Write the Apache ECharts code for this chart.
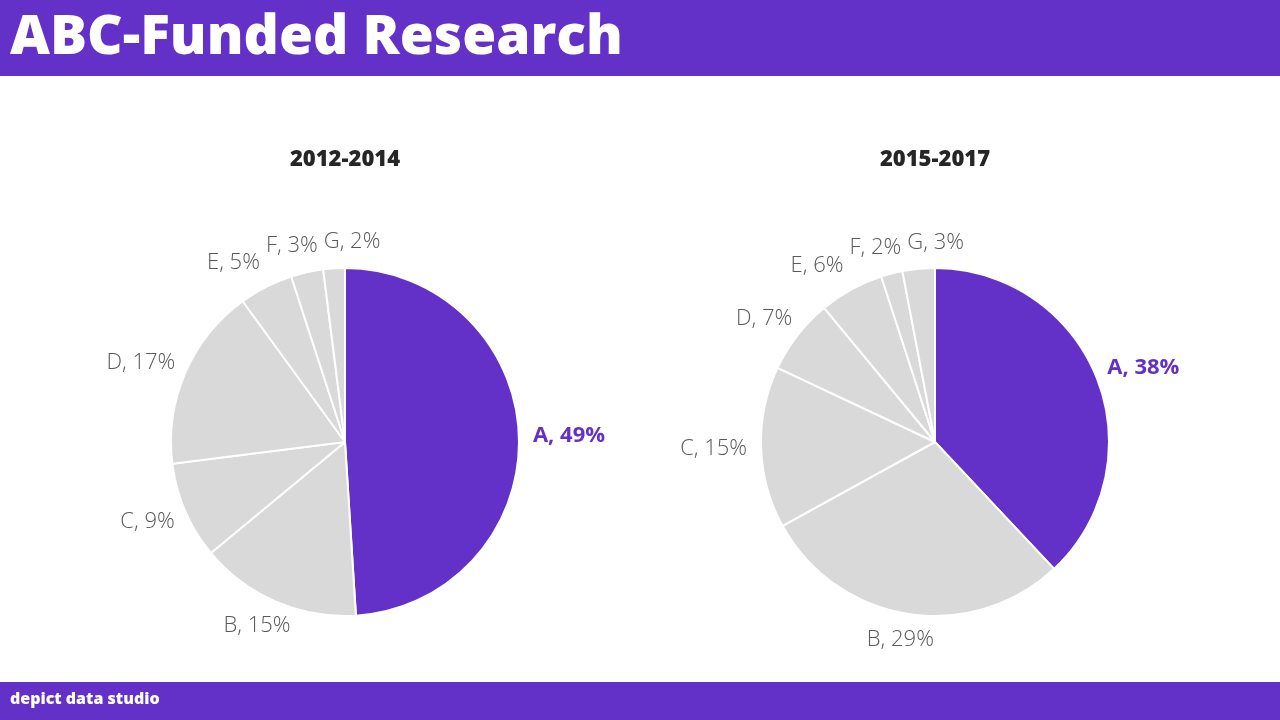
<!DOCTYPE html>
<html>
<head>
<meta charset="utf-8">
<script src="https://cdn.jsdelivr.net/npm/echarts@6/dist/echarts.min.js"></script>
<style>
  html, body { margin: 0; padding: 0; background: #fff; }
  #main { width: 1280px; height: 720px; }
</style>
</head>
<body>
<div id="main"></div>
<script>
// slices, clockwise from 12 o'clock
const categories = ['A', 'B', 'C', 'D', 'E', 'F', 'G'];
const values2012 = [49, 15, 9, 17, 5, 3, 2];
const values2015 = [38, 29, 15, 7, 6, 2, 3];
const periods = ['2012-2014', '2015-2017'];

const PURPLE = '#6331c7';
const GRAY = '#d9d9d9';
const CY = 442;
const R = 174;
const LABEL_SIZE = 22;
const LABEL_GAP = 14;

const measureCtx = document.createElement('canvas').getContext('2d');

// label boxes sit just outside the rim, pushed sideways when they collide
function layoutLabels(values, cx) {
    const total = values.reduce((a, b) => a + b, 0);
    let acc = 0;
    const boxes = values.map((v, i) => {
        const mid = (acc + v / 2) / total * Math.PI * 2;
        acc += v;
        const dx = Math.sin(mid), dy = -Math.cos(mid);
        measureCtx.font = (i === 0 ? 'bold ' : '300 ') + LABEL_SIZE + 'px "Open Sans"';
        const w = measureCtx.measureText(categories[i] + ', ' + v + '%').width;
        const h = LABEL_SIZE * 1.15;
        const px = cx + (R + LABEL_GAP) * dx, py = CY + (R + LABEL_GAP) * dy;
        return { x: px + dx * w / 2, y: py + dy * h / 2, w: w, h: h };
    });
    for (let it = 0; it < 10; it++) {
        for (let i = 0; i < boxes.length; i++) {
            for (let j = i + 1; j < boxes.length; j++) {
                const a = boxes[i], b = boxes[j];
                const ox = (a.w + b.w) / 2 + 6 - Math.abs(a.x - b.x);
                const oy = (a.h + b.h) / 2 - Math.abs(a.y - b.y);
                if (ox <= 0 || oy <= 0) continue;
                const s = a.x < b.x ? -1 : 1;
                a.x += s * ox / 2; b.x -= s * ox / 2;
            }
        }
    }
    return boxes;
}

function buildData(values) {
    return categories.map((c, i) => ({
        name: c,
        value: values[i],
        itemStyle: { color: i === 0 ? PURPLE : GRAY },
        label: i === 0
            ? { color: PURPLE, fontWeight: 'bold' }
            : { color: '#595959', fontWeight: 300 }
    }));
}

function pieSeries(values, cx) {
    const boxes = layoutLabels(values, cx);
    return {
        type: 'pie',
        center: [cx, CY],
        radius: R,
        startAngle: 90,
        clockwise: true,
        silent: true,
        animation: false,
        itemStyle: { borderColor: '#fff', borderWidth: 2 },
        label: {
            show: true,
            position: 'outside',
            formatter: '{b}, {c}%',
            fontFamily: 'Open Sans',
            fontSize: LABEL_SIZE
        },
        labelLine: { show: false },
        avoidLabelOverlap: false,
        labelLayout: function (p) {
            const b = boxes[p.dataIndex];
            return { x: b.x, y: b.y, align: 'center', verticalAlign: 'middle', hideOverlap: false };
        },
        data: buildData(values)
    };
}

const titleFont = '800 22px "Open Sans"';

const chart = echarts.init(document.getElementById('main'));
chart.setOption({
    backgroundColor: '#fff',
    graphic: [
        { type: 'rect', shape: { x: 0, y: 0, width: 1280, height: 76 }, style: { fill: PURPLE } },
        { type: 'text', x: 10, y: 38,
          style: { text: 'ABC-Funded Research', fill: '#fff', font: '800 55px "Open Sans"', verticalAlign: 'middle' } },
        { type: 'rect', shape: { x: 0, y: 682, width: 1280, height: 38 }, style: { fill: PURPLE } },
        { type: 'text', x: 10, y: 699,
          style: { text: 'depict data studio', fill: '#fff', font: '800 16px "Open Sans"', verticalAlign: 'middle' } },
        { type: 'text', x: 345, y: 160,
          style: { text: periods[0], fill: '#262626', font: titleFont, align: 'center', verticalAlign: 'middle' } },
        { type: 'text', x: 935, y: 160,
          style: { text: periods[1], fill: '#262626', font: titleFont, align: 'center', verticalAlign: 'middle' } }
    ],
    series: [
        pieSeries(values2012, 345),
        pieSeries(values2015, 935)
    ]
});
</script>
</body>
</html>
